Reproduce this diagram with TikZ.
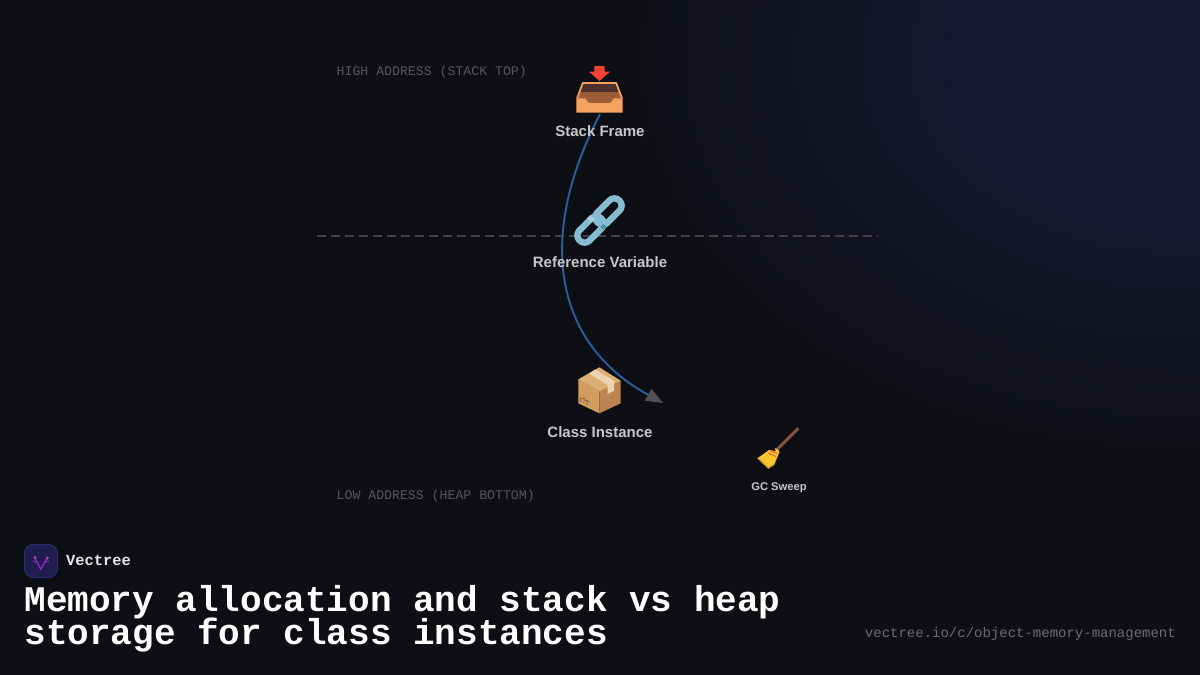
\documentclass[tikz,border=0pt]{standalone}
\usepackage{fontspec}
\setmainfont{Liberation Sans}
\newfontfamily\monofam{Liberation Mono}
\usetikzlibrary{arrows.meta}
\definecolor{bgbase}{HTML}{0E0F14}
\definecolor{glowa}{HTML}{161830}
\definecolor{labelcol}{HTML}{C8C8C8}
\definecolor{addrcol}{HTML}{55555A}
\definecolor{urlcol}{HTML}{6C6C70}
\definecolor{dashcol}{HTML}{414145}
\definecolor{edgecol}{HTML}{2C5E9E}
\definecolor{tipcol}{HTML}{505256}
\definecolor{trayor}{HTML}{F4A25E}
\definecolor{traydark}{HTML}{4E302D}
\definecolor{traymid}{HTML}{9C5C38}
\definecolor{trayred}{HTML}{F44336}
\definecolor{chainc}{HTML}{86BCD0}
\definecolor{chainl}{HTML}{A0D0E0}
\definecolor{chaind}{HTML}{3F8EA6}
\definecolor{boxtop}{HTML}{DDAE73}
\definecolor{boxleft}{HTML}{D09C62}
\definecolor{boxright}{HTML}{BC8450}
\definecolor{boxtape}{HTML}{EDD3B2}
\definecolor{boxmark}{HTML}{8A5C34}
\definecolor{broomh}{HTML}{8A5540}
\definecolor{broomy}{HTML}{FBC62D}
\definecolor{broomb}{HTML}{E0A428}
\definecolor{broomr}{HTML}{E2603C}
\definecolor{logofill}{HTML}{211D4E}
\definecolor{logoline}{HTML}{2F2B6B}
\definecolor{logov}{HTML}{8B2FC9}
\definecolor{logod}{HTML}{C13BD6}
\tikzset{
  x=1pt,y=-1pt,
  iconbox/.style={minimum width=50pt,minimum height=48pt,inner sep=0pt},
  nodelabel/.style={anchor=base,inner sep=0pt,text=labelcol,font=\fontsize{15}{18}\selectfont\bfseries},
  addrlabel/.style={anchor=base west,inner sep=0pt,text=addrcol,font=\monofam\fontsize{13.2}{16}\selectfont},
  titleline/.style={anchor=base west,inner sep=0pt,text=white,font=\monofam\fontsize{36}{36}\selectfont\bfseries},
  chainlink/.style={draw=chainc,line width=6.4pt,rounded corners=7pt},
  connector/.style={draw=edgecol,line width=1.9pt,-{Triangle[length=17pt,width=13pt,color=tipcol]}},
}
\begin{document}
\begin{tikzpicture}
\useasboundingbox (0,0) rectangle (1200,675);
% background
\fill[bgbase] (0,0) rectangle (1200,675);
\begin{scope}
  \clip (0,0) rectangle (1200,675);
  \foreach \r in {560,552,...,220}{
    \pgfmathsetmacro{\mixp}{(560-\r)/3.4}
    \fill[glowa!\mixp!bgbase] (1180,60) ellipse[x radius=\r,y radius=0.72*\r];
  }
\end{scope}
% separator
\coordinate (sepL) at (317,235.5);
\coordinate (sepR) at (878,235.5);
\draw[dashcol,line width=2pt,dash pattern=on 9pt off 5pt] (sepL) -- (sepR);
% icon anchors
\node[iconbox] (stackicon) at (600,90) {};
\node[iconbox] (reficon) at (600,220) {};
\node[iconbox] (classicon) at (600,390) {};
\node[iconbox] (gcicon) at (779,448) {};
\coordinate (arrowend) at (663,403);
% connector
\path[connector] (stackicon.south) .. controls (537,235) and (552,342) .. (arrowend);
% tray icon
\fill[traydark] (583,83) -- (616,83) -- (622,98.5) -- (577,98.5) -- cycle;
\fill[traymid] (580,92) -- (619,92) -- (622,103) -- (577,103) -- cycle;
\draw[trayor,line width=1.8pt,line join=round] (577,98.5) -- (582.8,83) -- (616.2,83) -- (622,98.5);
\fill[trayor] (576.3,98.3) -- (585,98.3) -- (588.5,102.8) -- (610.5,102.8) -- (614,98.3) -- (622.7,98.3) -- (622.7,112.7) -- (576.3,112.7) -- cycle;
\fill[trayred] (594.3,66) -- (604.7,66) -- (604.7,71.7) -- (610,71.7) -- (599.5,81) -- (589,71.7) -- (594.3,71.7) -- cycle;
% chain icon
\begin{scope}[shift={(590.5,229.5)},rotate=45]
  \draw[chainlink] (-15.5,-7.2) rectangle (15.5,7.2);
\end{scope}
\begin{scope}[shift={(608.5,211.5)},rotate=45]
  \draw[chainlink] (-15.5,-7.2) rectangle (15.5,7.2);
\end{scope}
\begin{scope}[shift={(590.5,229.5)},rotate=45]
  \draw[chainl,line width=6.4pt] (6,-7.2) -- (10,-7.2);
  \draw[chaind,line width=4pt] (9,7.2) -- (13,7.2);
\end{scope}
% box icon
\fill[boxleft] (578.3,379.3) -- (599.3,391.7) -- (599.3,413.3) -- (578.3,403.3) -- cycle;
\fill[boxright] (620.7,380.7) -- (599.3,391.7) -- (599.3,413.3) -- (620.7,403.3) -- cycle;
\fill[boxtop] (599.3,367.3) -- (620.7,380.7) -- (599.3,391.7) -- (578.3,379.3) -- cycle;
\fill[boxtape] (589.3,373.5) -- (595,369.5) -- (614,380.7) -- (614,390.7) -- (607.7,394) -- (607.7,385) -- cycle;
\draw[boxmark,line width=0.8pt] (580.5,398) -- (580.5,402) (584,398.5) -- (584,403) (587,400) -- (587,405) (580,398) -- (585,398.5) (585,400) -- (590,402);
% broom icon
\draw[broomh,line width=2.8pt] (798.3,428.3) -- (776,450.5);
\fill[broomb] (769.3,450) -- (779.3,452.3) -- (774.3,465) -- (768.3,468.8) -- (757.2,458.3) -- cycle;
\fill[broomy] (769.3,450) -- (779.3,452.3) -- (773.5,463.5) -- (768.3,466.5) -- (759,457.6) -- cycle;
\fill[broomy] (775,448) -- (778,449.5) -- (779.5,452) -- (776,452) -- cycle;
\draw[broomr,line width=1pt] (770,450.8) -- (777.5,453.5) (768,453.2) -- (776,456.5);
% labels
\node[nodelabel] (stacklabel) at (600,136.7) {Stack Frame};
\node[nodelabel] (reflabel) at (600,267.7) {Reference Variable};
\node[nodelabel] (classlabel) at (600,437.7) {Class Instance};
\node[anchor=base,inner sep=0pt,text=labelcol,font=\fontsize{11.2}{13}\selectfont\bfseries] (gclabel) at (779,490) {GC Sweep};
\node[addrlabel] (hightext) at (336.5,75.5) {HIGH ADDRESS (STACK TOP)};
\node[addrlabel] (lowtext) at (336.5,499.5) {LOW ADDRESS (HEAP BOTTOM)};
% logo
\draw[logoline,fill=logofill,line width=1pt,rounded corners=9pt] (24.5,544.5) rectangle (57.5,577.5);
\draw[logov,line width=1.3pt,line join=round] (35,558) -- (40.7,569.3) -- (47.3,558);
\draw[logov,line width=0.9pt] (33,561) -- (38,563) (49,561) -- (43.5,563);
\fill[logod] (35,557.5) circle[radius=1.6] (47.3,558) circle[radius=1.6];
\node[anchor=base west,inner sep=0pt,text=white!90!black,font=\monofam\fontsize{15.4}{18}\selectfont\bfseries] (brand) at (66,565.3) {Vectree};
% title
\node[titleline] (title1) at (24.3,611.7) {Memory allocation and stack vs heap};
\node[titleline] (title2) at (24.3,644.7) {storage for class instances};
\node[anchor=base east,inner sep=0pt,text=urlcol,font=\monofam\fontsize{14}{16}\selectfont] (url) at (1176,637) {vectree.io/c/object-memory-management};
\end{tikzpicture}
\end{document}
